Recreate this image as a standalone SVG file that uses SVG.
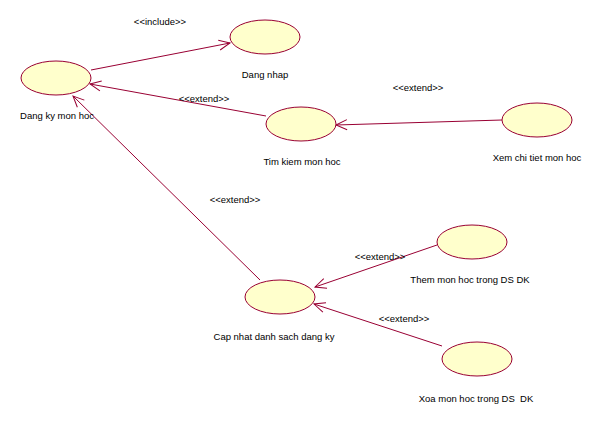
<svg xmlns="http://www.w3.org/2000/svg" width="611" height="431" viewBox="0 0 611 431">
<defs>
<marker id="a" markerWidth="14" markerHeight="12" refX="12" refY="6" orient="auto" markerUnits="userSpaceOnUse"><path d="M1,1 L12,6 L1,11" fill="none" stroke="#990033" stroke-width="1"/></marker>
<style>
ellipse{fill:#FFFFCC;stroke:#990033;stroke-width:1}
text{font-family:"Liberation Sans",Arial,sans-serif;font-size:9.5px;fill:#000;text-anchor:middle}
.c line{stroke:#990033;stroke-width:1;marker-end:url(#a)}
</style>
</defs>
<rect width="611" height="431" fill="#fff"/>
<g class="c" id="connectors">
<line x1="91" y1="70" x2="230" y2="43"/>
<line x1="266" y1="116" x2="90" y2="84"/>
<line x1="260" y1="280" x2="73" y2="96"/>
<line x1="502" y1="120" x2="336" y2="125"/>
<line x1="437" y1="245" x2="315" y2="287"/>
<line x1="442" y1="346" x2="314" y2="304"/>
<text x="160" y="25">&lt;&lt;include&gt;&gt;</text>
<text x="204" y="102">&lt;&lt;extend&gt;&gt;</text>
<text x="418" y="91">&lt;&lt;extend&gt;&gt;</text>
<text x="235" y="203">&lt;&lt;extend&gt;&gt;</text>
<text x="380" y="260">&lt;&lt;extend&gt;&gt;</text>
<text x="404" y="322">&lt;&lt;extend&gt;&gt;</text>
</g>
<g id="dangky"><ellipse cx="56" cy="78" rx="35" ry="17"/><text x="57" y="119">Dang ky mon hoc</text></g>
<g id="dangnhap"><ellipse cx="265" cy="37" rx="35" ry="17"/><text x="265" y="78">Dang nhap</text></g>
<g id="timkiem"><ellipse cx="301" cy="124" rx="35" ry="17"/><text x="302" y="165">Tim kiem mon hoc</text></g>
<g id="xemchitiet"><ellipse cx="537" cy="120" rx="35" ry="17"/><text x="537" y="161">Xem chi tiet mon hoc</text></g>
<g id="them"><ellipse cx="472" cy="242" rx="35" ry="17"/><text x="470" y="283">Them mon hoc trong DS DK</text></g>
<g id="capnhat"><ellipse cx="280" cy="297" rx="35" ry="17"/><text x="274" y="340">Cap nhat danh sach dang ky</text></g>
<g id="xoa"><ellipse cx="477" cy="359" rx="35" ry="17"/><text x="476" y="402" xml:space="preserve">Xoa mon hoc trong DS  DK</text></g>
</svg>
